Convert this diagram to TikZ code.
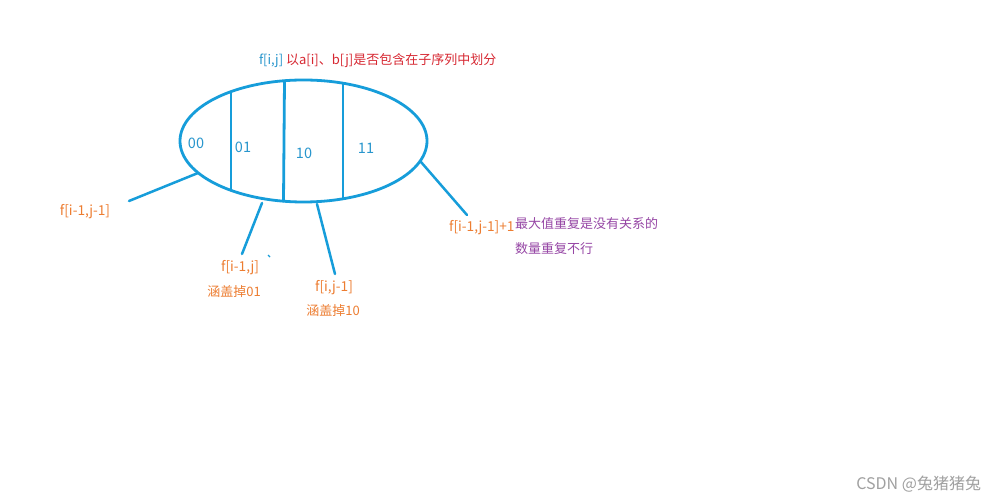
\documentclass[tikz,border=0pt]{standalone}
\usepackage{fontspec}
\setmainfont{Noto Sans CJK SC}
\usetikzlibrary{shapes.geometric}
\definecolor{lineblue}{RGB}{22,157,218}
\definecolor{txtblue}{RGB}{40,150,205}
\definecolor{txtred}{RGB}{215,40,50}
\definecolor{txtorange}{RGB}{237,125,49}
\definecolor{txtpurple}{RGB}{150,70,165}
\definecolor{txtgray}{RGB}{160,160,160}
\tikzset{
  blueline/.style={draw=lineblue, line width=2.8pt, line cap=round},
  lbl/.style={inner sep=0pt, outer sep=0pt, font=\fontsize{13pt}{15pt}\selectfont},
  latlbl/.style={inner sep=0pt, outer sep=0pt, font=\fontsize{13.7pt}{15pt}\selectfont},
  partlbl/.style={latlbl, text=txtblue, font=\fontsize{14.5pt}{16pt}\selectfont},
  orangelbl/.style={lbl, text=txtorange},
  orangelat/.style={latlbl, text=txtorange},
  purplelbl/.style={lbl, text=txtpurple},
}
\begin{document}
\begin{tikzpicture}[x=1pt,y=-1pt]
\useasboundingbox[fill=white] (0,0) rectangle (996,502);
% ellipse
\node[ellipse, draw=lineblue, line width=2.8pt, minimum width=247pt, minimum height=122pt, inner sep=0pt, outer sep=0pt] (E) at (303.5,141) {};
% dividers
\coordinate (d1t) at (231,92);  \coordinate (d1b) at (231,190);
\coordinate (d2t) at (284.5,81); \coordinate (d2b) at (283.5,201);
\coordinate (d3t) at (343,84);  \coordinate (d3b) at (343,198);
\draw[blueline] (d1t) -- (d1b);
\draw[blueline] (d2t) -- (d2b);
\draw[blueline] (d3t) -- (d3b);
% part labels
\node[partlbl] (p00) at (196,143) {00};
\node[partlbl] (p01) at (243,147) {01};
\node[partlbl] (p10) at (304,153) {10};
\node[partlbl] (p11) at (366,148) {11};
% title
\node[lbl, anchor=west] (title) at (259,61) {\textcolor{txtblue}{f[i,j]} \textcolor{txtred}{以a[i]、b[j]是否包含在子序列中划分}};
% branch coordinates
\coordinate (s1) at (198,173); \coordinate (e1) at (129,201);
\coordinate (s2) at (262,203); \coordinate (e2) at (242,254);
\coordinate (s3) at (317,204); \coordinate (e3) at (335,274);
\coordinate (s4) at (421,162); \coordinate (e4) at (467,215);
\draw[blueline, line width=2.5pt] (s1) -- (e1);
\draw[blueline, line width=2.5pt] (s2) -- (e2);
\draw[blueline, line width=2.5pt] (s3) -- (e3);
\draw[blueline, line width=2.5pt] (s4) -- (e4);
% stray tick
\coordinate (t1) at (268,255); \coordinate (t2) at (270,257);
\draw[draw=lineblue, line width=1.2pt] (t1) -- (t2);
% branch labels
\node[orangelat] (l1) at (85,212) {f[i-1,j-1]};
\node[orangelat] (l2a) at (240,268) {f[i-1,j]};
\node[orangelbl] (l2b) at (234,292) {涵盖掉01};
\node[orangelat] (l3a) at (334,288) {f[i,j-1]};
\node[orangelbl] (l3b) at (333,311) {涵盖掉10};
\node[orangelat, anchor=east] (l4) at (514.5,228) {f[i-1,j-1]+1};
\node[purplelbl, anchor=west] (n1) at (515,224) {最大值重复是没有关系的};
\node[purplelbl, anchor=west] (n2) at (515,249) {数量重复不行};
% watermark
\node[lbl, text=txtgray, font=\fontsize{16pt}{18pt}\selectfont, anchor=east] (wm) at (981,484) {CSDN @兔猪猪兔};
\end{tikzpicture}
\end{document}
